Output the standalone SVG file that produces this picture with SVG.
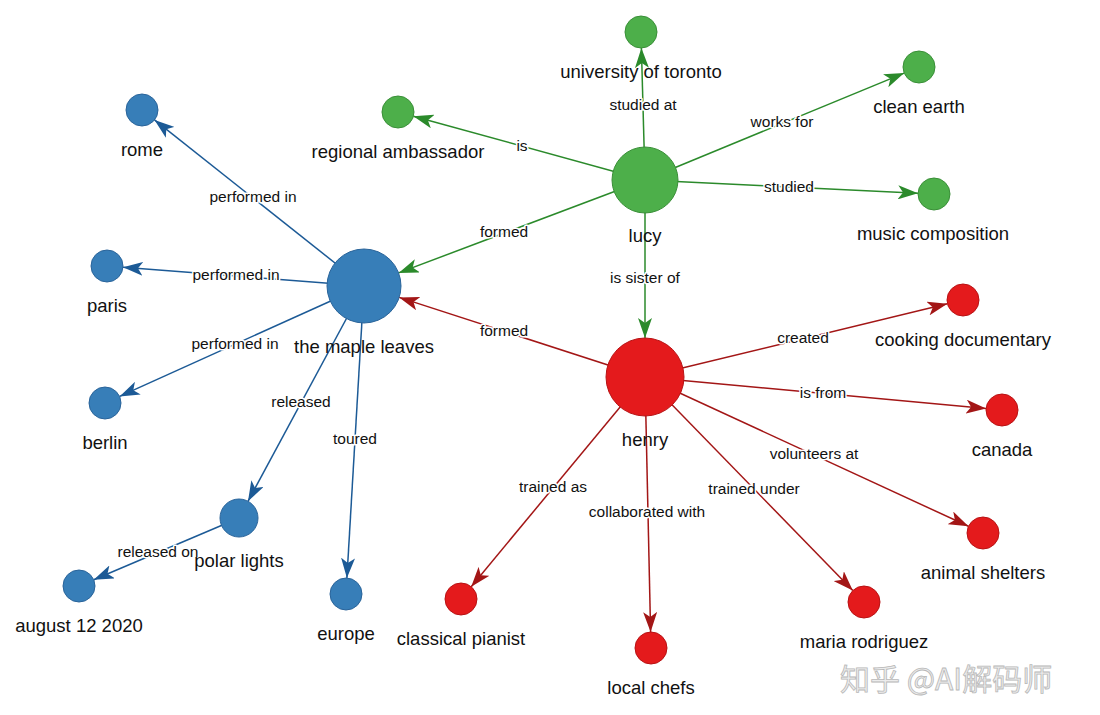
<svg xmlns="http://www.w3.org/2000/svg" width="1100" height="715" viewBox="0 0 1100 715">
<defs>
<style>
.eg{stroke:#2b8a2b;stroke-width:1.5;fill:none}
.eb{stroke:#1c5a96;stroke-width:1.5;fill:none}
.er{stroke:#a31616;stroke-width:1.5;fill:none}
.ng{fill:#4daf4a;stroke:#3a8f38;stroke-width:1}
.nb{fill:#377eb8;stroke:#2a649a;stroke-width:1}
.nr{fill:#e41a1c;stroke:#b81214;stroke-width:1}
.nl{font-family:"Liberation Sans",Arial,sans-serif;font-size:18.5px;fill:#111;text-anchor:middle}
.el{font-family:"Liberation Sans",Arial,sans-serif;font-size:15.5px;fill:#111;text-anchor:middle;stroke:#fff;stroke-width:3;paint-order:stroke;stroke-linejoin:round}
.wm{font-family:"Noto Sans CJK SC","Liberation Sans",sans-serif;font-size:30px;fill:#ececec;stroke:#b8b8b8;stroke-width:0.8}
</style>
<marker id="ag" viewBox="0 0 20 14" markerWidth="20" markerHeight="14" refX="20" refY="7" orient="auto" markerUnits="userSpaceOnUse"><path d="M0,0 L20,7 L0,14 L5,7 z" fill="#2b8a2b"/></marker>
<marker id="ab" viewBox="0 0 20 14" markerWidth="20" markerHeight="14" refX="20" refY="7" orient="auto" markerUnits="userSpaceOnUse"><path d="M0,0 L20,7 L0,14 L5,7 z" fill="#1c5a96"/></marker>
<marker id="ar" viewBox="0 0 20 14" markerWidth="20" markerHeight="14" refX="20" refY="7" orient="auto" markerUnits="userSpaceOnUse"><path d="M0,0 L20,7 L0,14 L5,7 z" fill="#a31616"/></marker>
</defs>
<rect width="1100" height="715" fill="#fff"/>
<g id="connectors">
<line class="eg" x1="645" y1="180" x2="641.4" y2="48" marker-end="url(#ag)"/>
<line class="eg" x1="645" y1="180" x2="413.4" y2="116.2" marker-end="url(#ag)"/>
<line class="eg" x1="645" y1="180" x2="904.2" y2="73.1" marker-end="url(#ag)"/>
<line class="eg" x1="645" y1="180" x2="918" y2="193.2" marker-end="url(#ag)"/>
<line class="eg" x1="645" y1="180" x2="398.6" y2="272.9" marker-end="url(#ag)"/>
<line class="eg" x1="645" y1="180" x2="645" y2="338" marker-end="url(#ag)"/>
<line class="eb" x1="364" y1="286" x2="154.5" y2="119.9" marker-end="url(#ab)"/>
<line class="eb" x1="364" y1="286" x2="123" y2="267.2" marker-end="url(#ab)"/>
<line class="eb" x1="364" y1="286" x2="119.6" y2="396.4" marker-end="url(#ab)"/>
<line class="eb" x1="364" y1="286" x2="248" y2="501.3" marker-end="url(#ab)"/>
<line class="eb" x1="364" y1="286" x2="346.9" y2="578" marker-end="url(#ab)"/>
<line class="eb" x1="239" y1="518" x2="93.7" y2="579.7" marker-end="url(#ab)"/>
<line class="er" x1="645" y1="377" x2="399.2" y2="297.4" marker-end="url(#ar)"/>
<line class="er" x1="645" y1="377" x2="947.4" y2="303.8" marker-end="url(#ar)"/>
<line class="er" x1="645" y1="377" x2="986.1" y2="408.5" marker-end="url(#ar)"/>
<line class="er" x1="645" y1="377" x2="968.5" y2="526.3" marker-end="url(#ar)"/>
<line class="er" x1="645" y1="377" x2="852.8" y2="590.5" marker-end="url(#ar)"/>
<line class="er" x1="645" y1="377" x2="650.6" y2="632" marker-end="url(#ar)"/>
<line class="er" x1="645" y1="377" x2="471.2" y2="586.7" marker-end="url(#ar)"/>
<text class="el" x="643" y="110">studied at</text>
<text class="el" x="522" y="151">is</text>
<text class="el" x="504" y="237">formed</text>
<text class="el" x="645" y="283">is sister of</text>
<text class="el" x="782" y="127">works for</text>
<text class="el" x="789" y="192">studied</text>
<text class="el" x="253" y="202">performed in</text>
<text class="el" x="236" y="280">performed in</text>
<text class="el" x="235" y="349">performed in</text>
<text class="el" x="301" y="407">released</text>
<text class="el" x="355" y="444">toured</text>
<text class="el" x="158" y="557">released on</text>
<text class="el" x="504" y="336">formed</text>
<text class="el" x="803" y="343">created</text>
<text class="el" x="823" y="398">is from</text>
<text class="el" x="814" y="459">volunteers at</text>
<text class="el" x="754" y="494">trained under</text>
<text class="el" x="647" y="517">collaborated with</text>
<text class="el" x="553" y="492">trained as</text>
</g>
<g id="lucy"><circle class="ng" cx="645" cy="180" r="33"/><text class="nl" x="645" y="242">lucy</text></g>
<g id="university-of-toronto"><circle class="ng" cx="641" cy="32" r="16"/><text class="nl" x="641" y="78">university of toronto</text></g>
<g id="regional-ambassador"><circle class="ng" cx="398" cy="112" r="16"/><text class="nl" x="398" y="158">regional ambassador</text></g>
<g id="clean-earth"><circle class="ng" cx="919" cy="67" r="16"/><text class="nl" x="919" y="113">clean earth</text></g>
<g id="music-composition"><circle class="ng" cx="934" cy="194" r="16"/><text class="nl" x="933" y="240">music composition</text></g>
<g id="the-maple-leaves"><circle class="nb" cx="364" cy="286" r="37"/><text class="nl" x="364" y="353">the maple leaves</text></g>
<g id="rome"><circle class="nb" cx="142" cy="110" r="16"/><text class="nl" x="142" y="156">rome</text></g>
<g id="paris"><circle class="nb" cx="107" cy="266" r="16"/><text class="nl" x="107" y="312">paris</text></g>
<g id="berlin"><circle class="nb" cx="105" cy="403" r="16"/><text class="nl" x="105" y="449">berlin</text></g>
<g id="polar-lights"><circle class="nb" cx="239" cy="518" r="19"/><text class="nl" x="239" y="567">polar lights</text></g>
<g id="august-12-2020"><circle class="nb" cx="79" cy="586" r="16"/><text class="nl" x="79" y="632">august 12 2020</text></g>
<g id="europe"><circle class="nb" cx="346" cy="594" r="16"/><text class="nl" x="346" y="640">europe</text></g>
<g id="henry"><circle class="nr" cx="645" cy="377" r="39"/><text class="nl" x="645" y="446">henry</text></g>
<g id="classical-pianist"><circle class="nr" cx="461" cy="599" r="16"/><text class="nl" x="461" y="645">classical pianist</text></g>
<g id="local-chefs"><circle class="nr" cx="651" cy="648" r="16"/><text class="nl" x="651" y="694">local chefs</text></g>
<g id="maria-rodriguez"><circle class="nr" cx="864" cy="602" r="16"/><text class="nl" x="864" y="648">maria rodriguez</text></g>
<g id="cooking-documentary"><circle class="nr" cx="963" cy="300" r="16"/><text class="nl" x="963" y="346">cooking documentary</text></g>
<g id="canada"><circle class="nr" cx="1002" cy="410" r="16"/><text class="nl" x="1002" y="456">canada</text></g>
<g id="animal-shelters"><circle class="nr" cx="983" cy="533" r="16"/><text class="nl" x="983" y="579">animal shelters</text></g>
<text class="wm" x="840" y="690">知乎 @AI解码师</text>
</svg>
